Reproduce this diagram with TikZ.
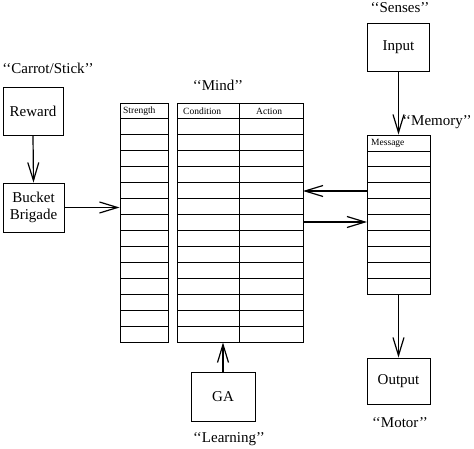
\documentclass[tikz,border=0pt]{standalone}
\usepackage{fontspec}
\setmainfont{Liberation Serif}
\usetikzlibrary{arrows.meta}
\tikzset{
  box/.style={draw, line width=0.9pt, inner sep=0pt, font=\fontsize{15}{17}\selectfont, align=center},
  tab/.style={draw, line width=0.9pt, inner sep=0pt},
  lab/.style={font=\fontsize{15}{17}\selectfont, inner sep=0pt},
  head/.style={font=\fontsize{9.5}{11}\selectfont, inner sep=0pt, anchor=west},
  conn/.style={line width=1.2pt, -{Straight Barb[length=18pt,width=11pt,line width=1.2pt]}}
}
\begin{document}
\begin{tikzpicture}[x=1pt,y=-1pt]
\useasboundingbox (0,0) rectangle (474,449);
% boxes
\node[box, minimum width=60pt, minimum height=48pt] (reward) at (33,111) {Reward};
\node[box, minimum width=61pt, minimum height=49pt] (bucket) at (33.5,207.5) {Bucket\\Brigade};
\node[box, minimum width=62pt, minimum height=48pt] (input) at (398.5,47) {Input};
\node[box, minimum width=63pt, minimum height=46pt] (output) at (398.5,381) {Output};
\node[box, minimum width=64pt, minimum height=49pt] (ga) at (223,396.5) {GA};
% tables
\node[tab, minimum width=48pt, minimum height=239pt] (strength) at (144,222.5) {};
\node[tab, minimum width=126pt, minimum height=239pt] (cond) at (240,222.5) {};
\node[tab, minimum width=63pt, minimum height=159pt] (message) at (398.5,214.5) {};
\draw[line width=0.9pt] (239,103) -- (239,342);
\foreach \k in {0,...,13}{
  \draw[line width=0.9pt] (120,118+16*\k) -- (168,118+16*\k);
  \draw[line width=0.9pt] (177,118+16*\k) -- (303,118+16*\k);
}
\foreach \k in {0,...,8}{
  \draw[line width=0.9pt] (367,151+15.9*\k) -- (430,151+15.9*\k);
}
\node[head] (hs) at (123,111) {Strength};
\node[head] (hc) at (183,111) {Condition};
\node[head] (ha) at (256,111) {Action};
\node[head] (hm) at (371,143) {Message};
% labels
\node[lab] (lcarrot) at (48,68) {`{}`Carrot/Stick'{}'};
\node[lab] (lmind) at (218,85) {`{}`Mind'{}'};
\node[lab] (lsenses) at (400,7.5) {`{}`Senses'{}'};
\node[lab] (lmemory) at (437,122) {`{}`Memory'{}'};
\node[lab] (lmotor) at (400,423) {`{}`Motor'{}'};
\node[lab] (llearn) at (229,439) {`{}`Learning'{}'};
% connectors
\coordinate (m1) at (367,191);
\coordinate (c1) at (303,191);
\coordinate (m2) at (367,222);
\coordinate (c2) at (303,222);
\draw[conn] (reward.south) -- (bucket.north);
\draw[conn] (bucket.east) -- (bucket.east -| strength.west);
\draw[conn] (input.south) -- (message.north);
\draw[conn] (message.south) -- (output.north);
\draw[conn] (ga.north) -- (ga.north |- cond.south);
\draw[conn] (m1) -- (c1);
\draw[conn] (c2) -- (m2);
\end{tikzpicture}
\end{document}
